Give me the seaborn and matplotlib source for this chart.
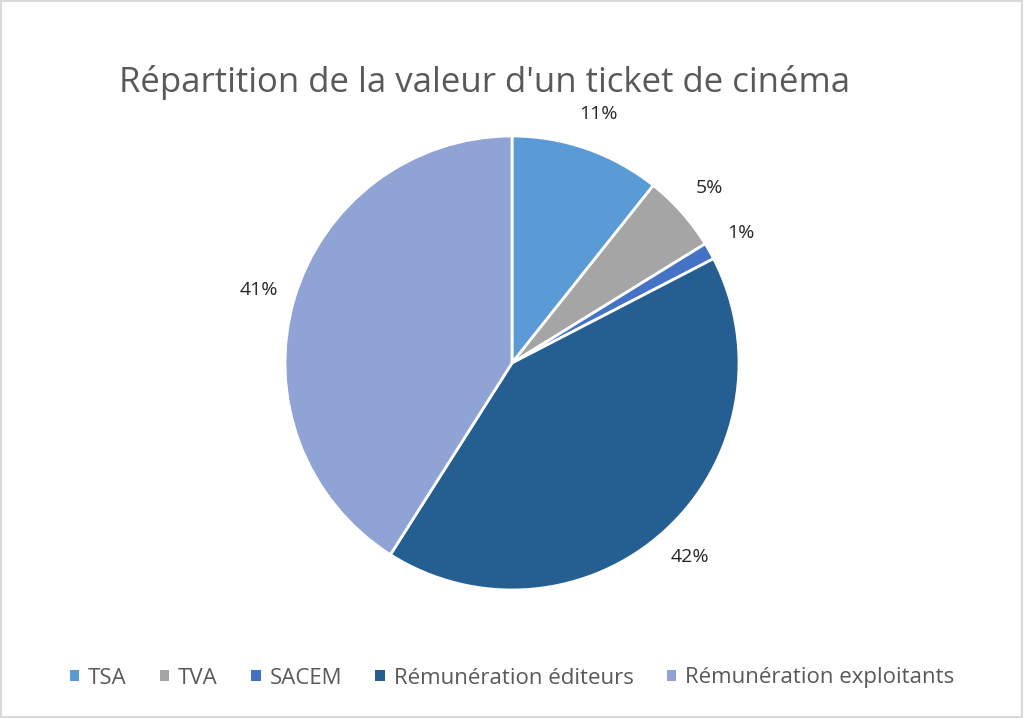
import matplotlib
matplotlib.use("Agg")
import matplotlib.pyplot as plt
import seaborn as sns
from matplotlib.patches import Patch

# données
categories = ["TSA", "TVA", "SACEM", "Rémunération éditeurs", "Rémunération exploitants"]
parts = [10.7, 5.5, 1.2, 41.6, 41.0]
labels_pct = ["11%", "5%", "1%", "42%", "41%"]
couleurs = ["#5B9BD5", "#A5A5A5", "#4472C4", "#255E91", "#8FA3D4"]

sns.set_theme(style="white")
plt.rcParams['font.family'] = ['Open Sans', 'DejaVu Sans']

fig = plt.figure(figsize=(10.24, 7.18), dpi=100)
fig.patch.set_facecolor("white")

# cadre gris autour du graphique
fig.add_artist(plt.Rectangle((0.001, 0.001), 0.997, 0.997, transform=fig.transFigure,
                             fill=False, edgecolor="#D9D9D9", linewidth=1.5))

# axe centré sur le camembert
w = 454 / 1024
h = 454 / 718
cx, cy = 512 / 1024, 1 - 363 / 718
ax = fig.add_axes([cx - w / 2, cy - h / 2, w, h])

palette = sns.color_palette(couleurs)
wedges, texts = ax.pie(parts, colors=palette, startangle=90, counterclock=False,
                       labels=labels_pct, labeldistance=1.16,
                       wedgeprops=dict(edgecolor="white", linewidth=2),
                       textprops=dict(fontsize=14, color="#262626"))
for t in texts:
    t.set_horizontalalignment("center")
    t.set_verticalalignment("center")
ax.set_xlim(-1, 1)
ax.set_ylim(-1, 1)
ax.set_aspect("equal")

fig.text(0.4736, 1 - 82 / 718, "Répartition de la valeur d'un ticket de cinéma",
         ha="center", va="center", fontsize=25, color="#595959")

handles = [Patch(facecolor=c, edgecolor="none") for c in couleurs]
fig.legend(handles, categories, loc="center", bbox_to_anchor=(0.5, 1 - 678 / 718),
           ncol=5, frameon=False, fontsize=16, labelcolor="#595959",
           handlelength=0.42, handleheight=0.42, handletextpad=0.4, columnspacing=1.5)

plt.savefig("out.png", dpi=100)
